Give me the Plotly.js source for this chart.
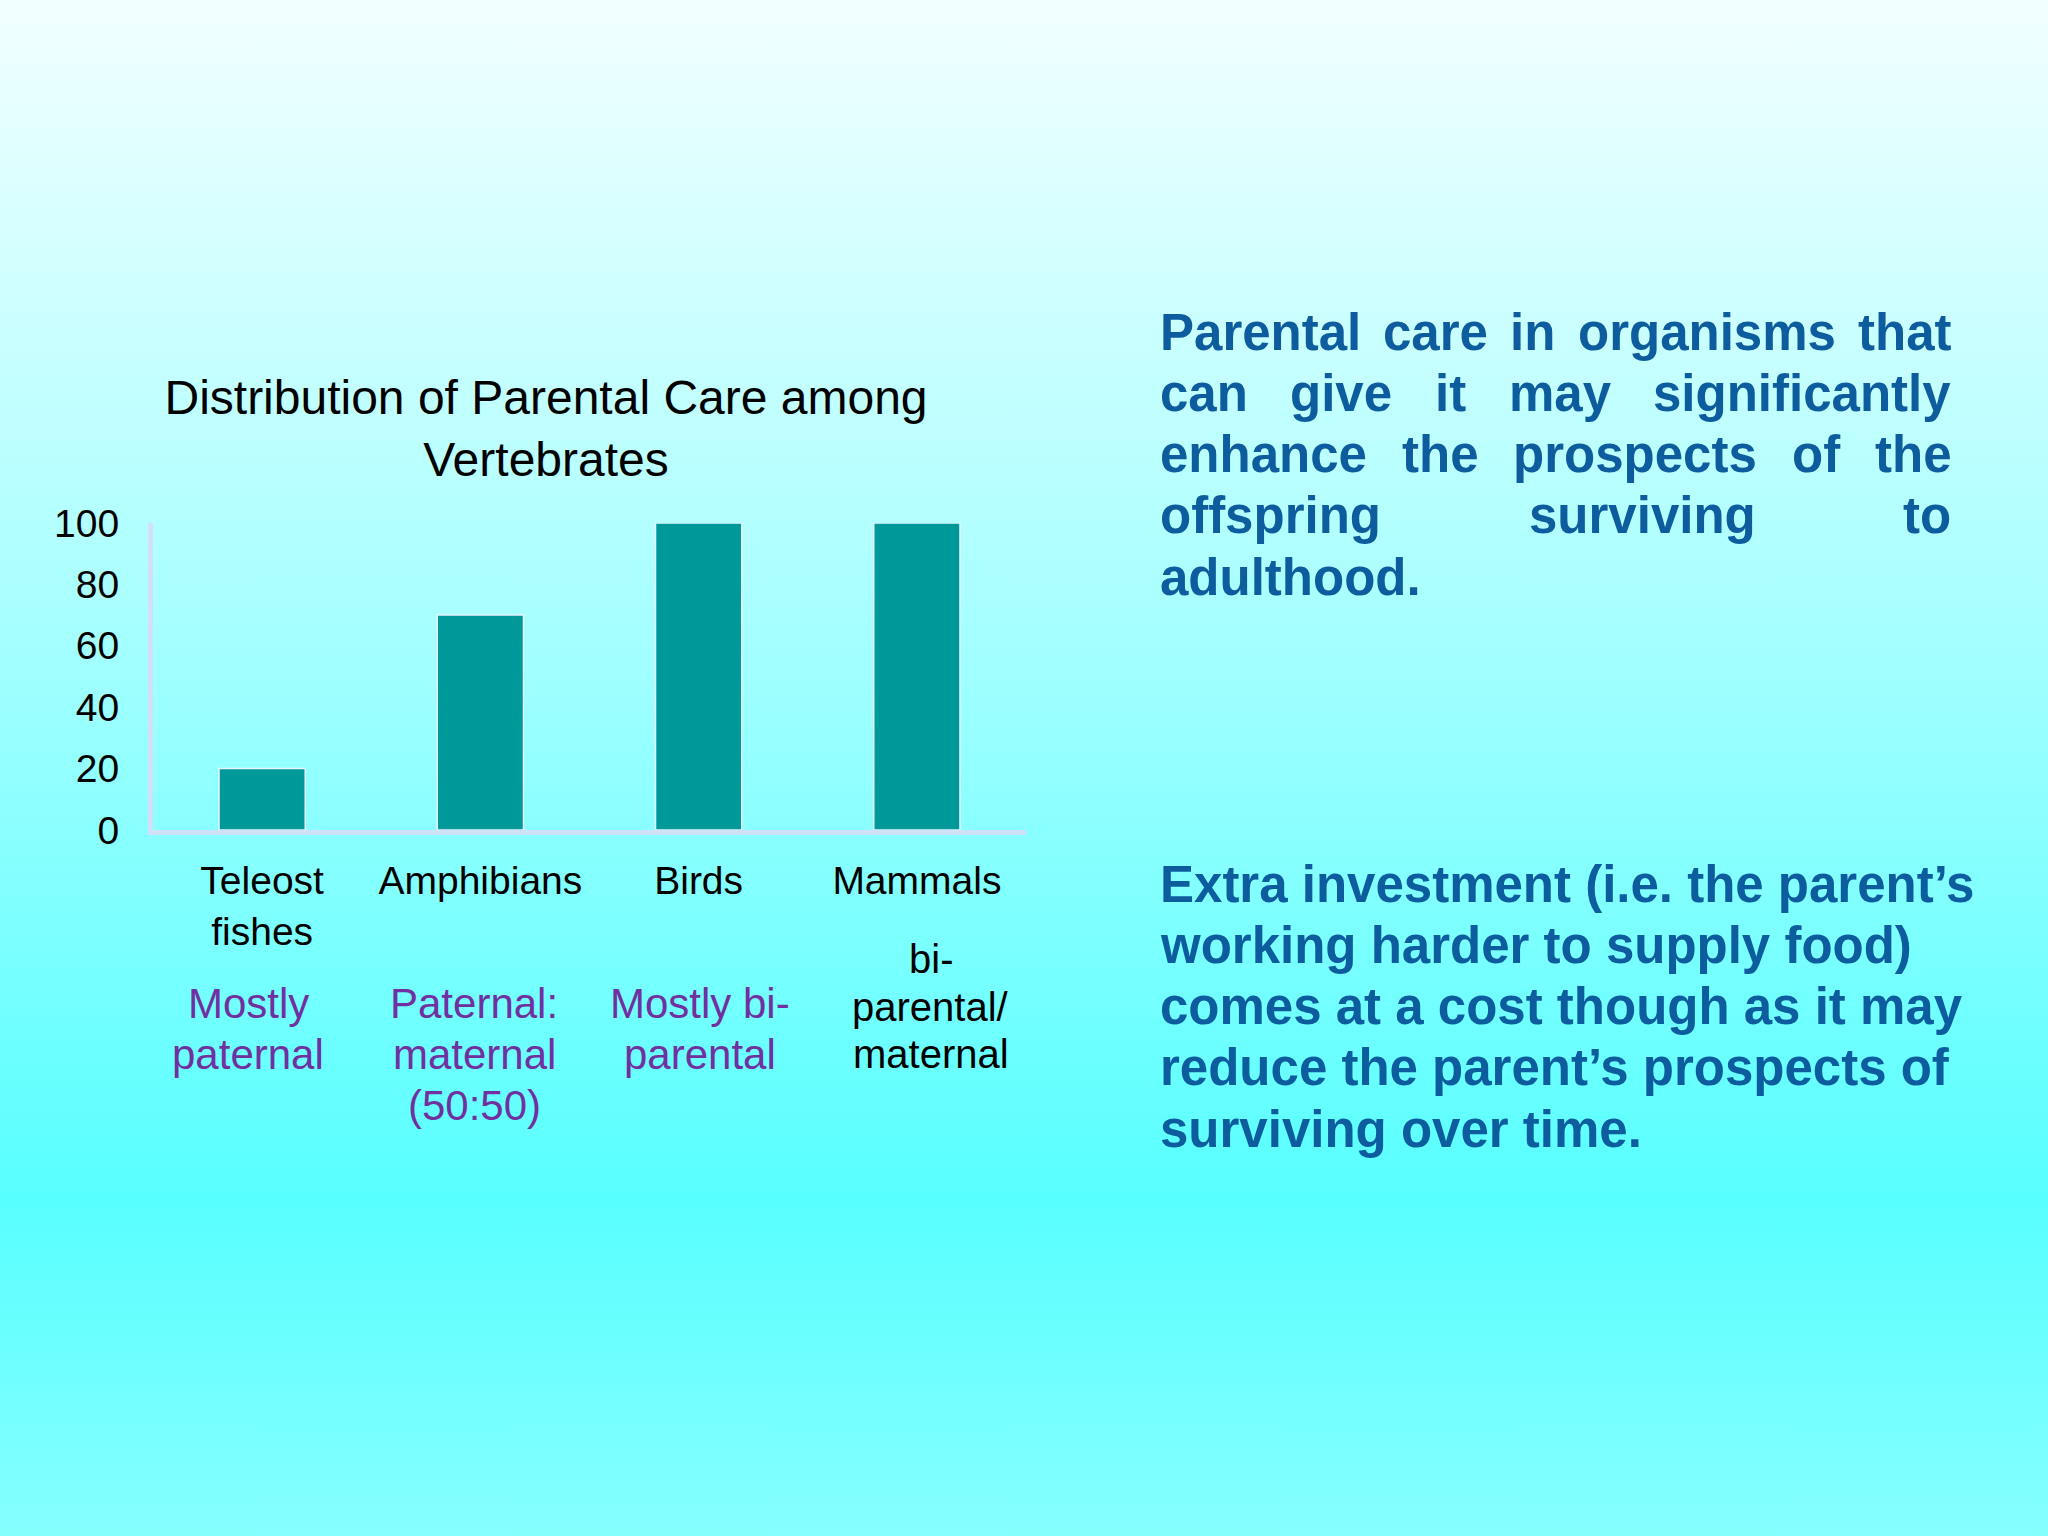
<!DOCTYPE html>
<html>
<head>
<meta charset="utf-8">
<script src="https://cdn.plot.ly/plotly-3.0.1.min.js"></script>
<style>
  html, body { margin: 0; padding: 0; }
  body {
    width: 2048px; height: 1536px;
    background: linear-gradient(to bottom, #f2ffff 0%, #a8ffff 40%, #58ffff 78%, #86ffff 100%);
  }
  #chart { width: 2048px; height: 1536px; }
</style>
</head>
<body>
<div id="chart"></div>
<script>
  // chart data
  var groups = ['Teleost<br>fishes', 'Amphibians', 'Birds', 'Mammals'];
  var careShare = [20, 70, 100, 100];
  var careKind = [
    ['Mostly', 'paternal'],
    ['Paternal:', 'maternal', '(50:50)'],
    ['Mostly bi-', 'parental'],
    ['bi-', 'parental/', 'maternal']
  ];
  var yTicks = [0, 20, 40, 60, 80, 100];

  // slide text beside the chart
  var parentalCare = [
    'Parental care in organisms that',
    'can give it may significantly',
    'enhance the prospects of the',
    'offspring surviving to',
    'adulthood.'
  ];
  var extraInvestment = [
    'Extra investment (i.e. the parent\u2019s',
    'working harder to supply food)',
    'comes at a cost though as it may',
    'reduce the parent\u2019s prospects of',
    'surviving over time.'
  ];

  var W = 2048, H = 1536;
  var FONT = 'Liberation Sans, Arial, sans-serif';
  function px(x) { return x / W; }
  function py(y) { return 1 - y / H; }

  var annotations = [];

  // care-type notes under each category
  var noteStyle = [
    {color: '#7030a0', size: 42, top: 1003, step: 51, shift: -14},
    {color: '#7030a0', size: 42, top: 1003, step: 51, shift: -6},
    {color: '#7030a0', size: 42, top: 1003, step: 51, shift: 1},
    {color: '#000000', size: 40, top: 959, step: 47.5, shift: 14}
  ];
  careKind.forEach(function (lines, i) {
    var s = noteStyle[i];
    lines.forEach(function (t, j) {
      annotations.push({
        text: t, xref: 'x', x: groups[i], xshift: s.shift,
        yref: 'paper', y: py(s.top + j * s.step), yanchor: 'middle',
        showarrow: false, borderpad: 0, borderwidth: 0,
        font: {family: FONT, size: s.size, color: s.color}
      });
    });
  });

  // right-hand paragraphs
  var textFont = {family: FONT, size: 51, color: '#0c5c9e', weight: 'bold'};
  var left = 1160, right = 1951;
  var ctx = document.createElement('canvas').getContext('2d');
  ctx.font = 'bold 51px "Liberation Sans", Arial, sans-serif';

  parentalCare.forEach(function (line, i) {
    var y = py(332 + i * 61.3);
    var words = line.split(' ');
    if (i === parentalCare.length - 1 || words.length === 1) {
      annotations.push({text: '<b>' + line + '</b>', xref: 'paper', x: px(left), xanchor: 'left',
        yref: 'paper', y: y, yanchor: 'middle', showarrow: false, borderpad: 0, borderwidth: 0, font: textFont});
      return;
    }
    // justified line: spread the words over the full width
    var widths = words.map(function (w) { return ctx.measureText(w).width; });
    var total = widths.reduce(function (a, b) { return a + b; }, 0);
    var gap = (right - left - total) / (words.length - 1);
    var pos = left;
    words.forEach(function (w, k) {
      annotations.push({text: '<b>' + w + '</b>', xref: 'paper', x: px(pos), xanchor: 'left',
        yref: 'paper', y: y, yanchor: 'middle', showarrow: false, borderpad: 0, borderwidth: 0, font: textFont});
      pos += widths[k] + gap;
    });
  });

  extraInvestment.forEach(function (line, i) {
    annotations.push({text: '<b>' + line + '</b>', xref: 'paper', x: px(left), xanchor: 'left',
      yref: 'paper', y: py(884 + i * 61.3), yanchor: 'middle', showarrow: false,
      borderpad: 0, borderwidth: 0, font: textFont});
  });

  var bars = {
    type: 'bar',
    x: groups,
    y: careShare,
    width: 0.395,
    marker: {color: '#009999', line: {color: '#e6f4ff', width: 1.5}},
    hoverinfo: 'x+y'
  };

  var layout = {
    width: W,
    height: H,
    margin: {l: 0, r: 0, t: 0, b: 0},
    paper_bgcolor: 'rgba(0,0,0,0)',
    plot_bgcolor: 'rgba(0,0,0,0)',
    showlegend: false,
    font: {family: FONT, color: '#000000'},
    title: {
      text: 'Distribution of Parental Care among<br>Vertebrates',
      font: {family: FONT, size: 48, color: '#000000'},
      x: px(546), xanchor: 'center',
      y: py(414), yanchor: 'middle'
    },
    xaxis: {
      domain: [px(153), px(1026)],
      type: 'category',
      showgrid: false,
      zeroline: false,
      showline: true,
      linecolor: '#cfe2f8',
      linewidth: 5,
      ticks: '',
      ticklabelstandoff: 12,
      tickfont: {family: FONT, size: 39, color: '#000000'}
    },
    yaxis: {
      domain: [py(830), py(523)],
      range: [0, 100],
      tickvals: yTicks,
      showgrid: false,
      zeroline: false,
      showline: true,
      linecolor: '#d4def6',
      linewidth: 5,
      ticks: '',
      ticklabelstandoff: 21,
      tickfont: {family: FONT, size: 39, color: '#000000'}
    },
    annotations: annotations
  };

  Plotly.newPlot('chart', [bars], layout, {displayModeBar: false, staticPlot: true});
</script>
</body>
</html>
